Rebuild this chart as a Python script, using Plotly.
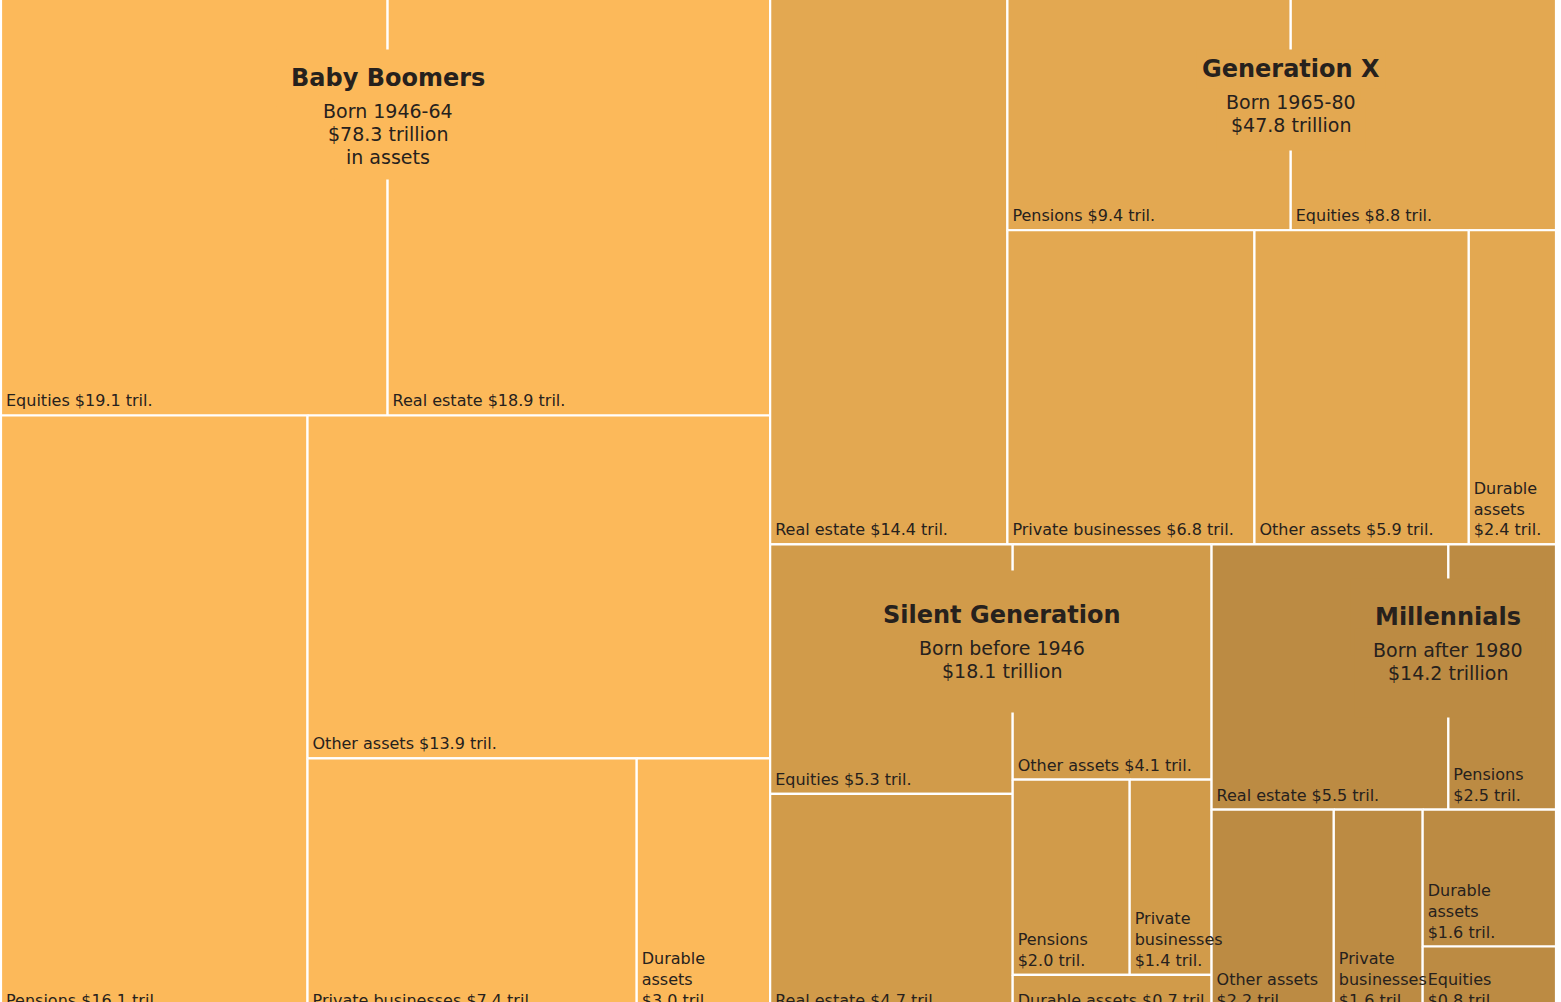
import plotly.graph_objects as go

# ---------------- data ----------------
generations = ["Baby Boomers", "Generation X", "Silent Generation", "Millennials"]
born = ["Born 1946-64", "Born 1965-80", "Born before 1946", "Born after 1980"]
totals = [78.3, 47.8, 18.1, 14.2]
extra_line = ["in assets", "", "", ""]

boomers_assets = ["Equities", "Real estate", "Pensions", "Other assets", "Private businesses", "Durable assets"]
boomers_values = [19.1, 18.9, 16.1, 13.9, 7.4, 3.0]

genx_assets = ["Real estate", "Pensions", "Equities", "Private businesses", "Other assets", "Durable assets"]
genx_values = [14.4, 9.4, 8.8, 6.8, 5.9, 2.4]

silent_assets = ["Equities", "Real estate", "Other assets", "Pensions", "Private businesses", "Durable assets"]
silent_values = [5.3, 4.7, 4.1, 2.0, 1.4, 0.7]

millennial_assets = ["Real estate", "Pensions", "Other assets", "Private businesses", "Durable assets", "Equities"]
millennial_values = [5.5, 2.5, 2.2, 1.6, 1.6, 0.8]

group_assets = [boomers_assets, genx_assets, silent_assets, millennial_assets]
group_values = [boomers_values, genx_values, silent_values, millennial_values]

# ---------------- tiling structure (split directions only) ----------------
# 'V' = children side by side, 'H' = children stacked
top_spec = ("V", [0, ("H", [1, ("V", [2, 3])])])
group_specs = [
    ("H", [("V", [0, 1]), ("V", [2, ("H", [3, ("V", [4, 5])])])]),
    ("V", [0, ("H", [("V", [1, 2]), ("V", [3, 4, 5])])]),
    ("V", [("H", [0, 1]), ("H", [2, ("V", [3, 4]), 5])]),
    ("H", [("V", [0, 1]), ("V", [2, 3, ("H", [4, 5])])]),
]
# label wrapping: 0 = one line, 1 = break before value, 2 = break after each word
wrap_modes = [
    [0, 0, 0, 0, 0, 2],
    [0, 0, 0, 0, 0, 2],
    [0, 0, 0, 1, 2, 0],
    [0, 1, 1, 2, 2, 1],
]

# ---------------- styles ----------------
colors = ["#FCB95A", "#E3A851", "#D19B4A", "#BC8B43"]
TEXT = "#26211d"
FONT = "DejaVu Sans"
CHART_W = 1555.0
CHART_H = 1163.4
VIEW_TOP = 148.4
VIEW_H = 1002
title_anchor_leaf = [0, 1, 0, 0]
title_dx = [0, 0, -11, 0]
title_dy = [78, 69, 71, 73]
title_pad = [14, 5, 30, 24]
last_pad = [11, 14, 30, 33]


def spec_value(spec, vals):
    if isinstance(spec, int):
        return vals[spec]
    return sum(spec_value(c, vals) for c in spec[1])


def tile(spec, vals, x0, y0, x1, y1, out):
    if isinstance(spec, int):
        out[spec] = (x0, y0, x1, y1)
        return
    d, kids = spec
    tot = spec_value(spec, vals)
    pos = x0 if d == "V" else y0
    for c in kids:
        v = spec_value(c, vals)
        if d == "V":
            w = (x1 - x0) * v / tot
            tile(c, vals, pos, y0, pos + w, y1, out)
            pos += w
        else:
            h = (y1 - y0) * v / tot
            tile(c, vals, x0, pos, x1, pos + h, out)
            pos += h


def make_label(name, value, mode):
    val = f"${value:.1f} tril."
    if mode == 0:
        return f"{name} {val}"
    if mode == 1:
        return f"{name}<br>{val}"
    return "<br>".join(name.split(" ") + [val])


sums = [sum(v) for v in group_values]
group_rects = {}
tile(top_spec, sums, 0.0, 0.0, CHART_W, CHART_H, group_rects)

fig = go.Figure()
bg_annotations = []
txt_annotations = []
lab_x, lab_y, lab_t = [], [], []

for g in range(len(generations)):
    gx0, gy0, gx1, gy1 = group_rects[g]
    leaves = {}
    tile(group_specs[g], group_values[g], gx0, gy0, gx1, gy1, leaves)
    for i, name in enumerate(group_assets[g]):
        x0, y0, x1, y1 = leaves[i]
        fig.add_trace(go.Scatter(
            x=[x0, x1, x1, x0, x0], y=[y0, y0, y1, y1, y0],
            mode="lines", fill="toself", fillcolor=colors[g],
            line=dict(color="white", width=2.2),
            hoverinfo="text",
            text=f"{generations[g]} - {name}: ${group_values[g][i]:.1f} tril.",
            showlegend=False,
        ))
        lab_x.append(x0 + 5)
        lab_y.append(y1 - 5)
        lab_t.append(make_label(name, group_values[g][i], wrap_modes[g][i]))

    # group title block
    ax = leaves[title_anchor_leaf[g]][2] + title_dx[g]
    ty = max(gy0, VIEW_TOP) + title_dy[g]
    lines = [born[g], f"${totals[g]:.1f} trillion"]
    if extra_line[g]:
        lines.append(extra_line[g])
    items = [(f"<b>{generations[g]}</b>", ty, 24, title_pad[g])]
    for k, ln in enumerate(lines):
        pad = last_pad[g] if k == len(lines) - 1 else 4
        items.append((ln, ty + 33 + 23 * k, 19, pad))
    for text, yy, size, pad in items:
        common = dict(x=ax, y=yy, xref="x", yref="y", text=text,
                      showarrow=False, xanchor="center", yanchor="middle")
        bg_annotations.append(dict(
            **common, font=dict(family=FONT, size=size, color=colors[g]),
            bgcolor=colors[g], borderpad=pad,
        ))
        txt_annotations.append(dict(
            **common, font=dict(family=FONT, size=size, color=TEXT),
        ))

fig.add_trace(go.Scatter(
    x=lab_x, y=lab_y, text=lab_t, mode="text",
    textposition="top right",
    textfont=dict(family=FONT, size=16, color=TEXT),
    hoverinfo="skip", showlegend=False,
))

fig.update_layout(
    width=1561, height=1002,
    margin=dict(l=0, r=0, t=0, b=0),
    paper_bgcolor="white", plot_bgcolor="white",
    xaxis=dict(range=[-1, 1560], visible=False, fixedrange=True),
    yaxis=dict(range=[VIEW_TOP + VIEW_H, VIEW_TOP], visible=False, fixedrange=True),
    annotations=bg_annotations + txt_annotations,
    showlegend=False,
)

fig.write_html("out.html")
